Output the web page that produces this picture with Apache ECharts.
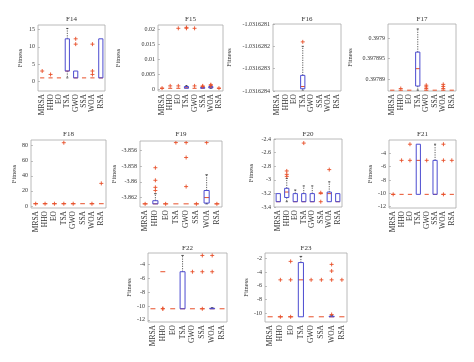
<!DOCTYPE html>
<html><head><meta charset="utf-8">
<script src="https://cdn.jsdelivr.net/npm/echarts@6/dist/echarts.min.js"></script>
<style>html,body{margin:0;padding:0;background:#fff}#c{width:474px;height:362px}</style>
</head><body><div id="c"></div>
<script>
const algorithms = ['MRSA','HHO','EO','TSA','GWO','SSA','WOA','RSA'];
const titles = ['F14','F15','F16','F17','F18','F19','F20','F21','F22','F23'];

// box stats per algorithm: [lower whisker, Q1, median, Q3, upper whisker]
const f14Box = [[0.998,0.998,0.998,0.998,0.998],[0.998,0.998,0.998,0.998,0.998],[0.998,0.998,0.998,0.998,0.998],[0.998,2.98,2.98,12.3,15.3],[0.998,0.998,0.998,2.98,2.98],[0.998,0.998,0.998,0.998,0.998],[0.998,0.998,0.998,0.998,0.998],[0.998,0.998,0.998,12.3,12.3]];
const f14Out = [[2.98],[1.99],[],[],[12.3,10.76],[],[10.76,2.98,1.99],[]];
const f14Ticks = [0,5,10,15];

const f15Box = [[0.0003,0.0003,0.0003,0.0003,0.0003],[0.0003,0.0003,0.0003,0.0003,0.0003],[0.0003,0.0003,0.0003,0.0003,0.0003],[0.0003,0.0003,0.0005,0.0009,0.0012],[0.0003,0.0003,0.0003,0.0003,0.0003],[0.0003,0.0003,0.0004,0.0006,0.0008],[0.0003,0.0004,0.0006,0.0009,0.0012],[0.0003,0.0003,0.0003,0.0003,0.0003]];
const f15Out = [[0.00035],[0.0011],[0.0203,0.0011],[0.0206,0.0203],[0.0203,0.0011],[0.0009,0.0011],[0.0013,0.0015],[0.00035]];
const f15Ticks = [0,0.005,0.01,0.015,0.02];

const f16Box = [[-1.03162845,-1.03162845,-1.03162845,-1.03162845,-1.03162845],[-1.03162845,-1.03162845,-1.03162845,-1.03162845,-1.03162845],[-1.03162845,-1.03162845,-1.03162845,-1.03162845,-1.03162845],[-1.0316284,-1.03162839,-1.03162838,-1.03162833,-1.0316282],[-1.03162845,-1.03162845,-1.03162845,-1.03162845,-1.03162845],[-1.03162845,-1.03162845,-1.03162845,-1.03162845,-1.03162845],[-1.03162845,-1.03162845,-1.03162845,-1.03162845,-1.03162845],[-1.03162845,-1.03162845,-1.03162845,-1.03162845,-1.03162845]];
const f16Out = [[],[],[],[-1.03162818],[],[],[],[]];
const f16Ticks = [-1.0316284,-1.0316283,-1.0316282,-1.0316281];

const f17Box = [[0.3978874,0.3978874,0.3978874,0.3978874,0.3978874],[0.3978874,0.3978874,0.3978874,0.3978874,0.3978874],[0.3978874,0.3978874,0.3978874,0.3978874,0.3978874],[0.3978874,0.3978884,0.3978926,0.3978966,0.3979022],[0.3978874,0.3978874,0.3978874,0.3978874,0.3978874],[0.3978874,0.3978874,0.3978874,0.3978874,0.3978874],[0.3978874,0.3978874,0.3978874,0.3978874,0.3978874],[0.3978874,0.3978874,0.3978874,0.3978874,0.3978874]];
const f17Out = [[],[0.3978878],[],[],[0.3978886,0.3978882,0.3978878],[],[0.3978888,0.3978883,0.3978878],[]];
const f17Ticks = [0.39789,0.397895,0.3979];

const f18Box = [[3,3,3,3,3],[3,3,3,3,3],[3,3,3,3,3],[3,3,3,3,3],[3,3,3,3,3],[3,3,3,3,3],[3,3,3,3,3],[3,3,3,3,3]];
const f18Out = [[3],[3],[3],[3,84],[3],[],[3],[30]];
const f18Ticks = [0,20,40,60,80];

const f19Box = [[-3.8628,-3.8628,-3.8628,-3.8628,-3.8628],[-3.8628,-3.8628,-3.8628,-3.8624,-3.8615],[-3.8628,-3.8628,-3.8628,-3.8628,-3.8628],[-3.8628,-3.8628,-3.8628,-3.8628,-3.8628],[-3.8628,-3.8628,-3.8628,-3.8628,-3.8628],[-3.8628,-3.8628,-3.8628,-3.8628,-3.8628],[-3.8628,-3.8627,-3.862,-3.8611,-3.8591],[-3.8628,-3.8628,-3.8628,-3.8628,-3.8628]];
const f19Out = [[-3.8628],[-3.8582,-3.8598,-3.8607,-3.8611],[-3.8628],[-3.855],[-3.855,-3.8569,-3.8606],[-3.8628],[-3.855],[-3.8628]];
const f19Ticks = [-3.862,-3.86,-3.858,-3.856];

const f20Box = [[-3.322,-3.322,-3.322,-3.2032,-3.2032],[-3.322,-3.26,-3.18,-3.125,-2.98],[-3.322,-3.322,-3.322,-3.2032,-3.15],[-3.322,-3.322,-3.322,-3.2032,-3.09],[-3.322,-3.322,-3.322,-3.2032,-3.09],[-3.2032,-3.2032,-3.2032,-3.2032,-3.2032],[-3.322,-3.322,-3.2032,-3.18,-3.03],[-3.322,-3.322,-3.322,-3.2032,-3.2032]];
const f20Out = [[],[-2.87,-2.92,-2.95],[],[-2.46],[],[-3.19,-3.322],[-2.85],[]];
const f20Ticks = [-3.4,-3.2,-3,-2.8,-2.6,-2.4];

const f21Box = [[-10.1532,-10.1532,-10.1532,-10.1532,-10.1532],[-10.1532,-10.1532,-10.1532,-10.1532,-10.1532],[-10.1532,-10.1532,-10.1532,-10.1532,-10.1532],[-10.1532,-10.1532,-5.0552,-2.6305,-2.6305],[-10.1532,-10.1532,-10.1532,-10.1532,-10.1532],[-10.1532,-10.1532,-10.1532,-5.0552,-2.6305],[-10.1532,-10.1532,-10.1532,-10.1532,-10.1532],[-10.1532,-10.1532,-10.1532,-10.1532,-10.1532]];
const f21Out = [[-10.1532],[-5.0552],[-5.0552,-2.6305],[],[-5.0552],[],[-10.1532,-5.0552,-2.6305],[-5.0552]];
const f21Ticks = [-12,-10,-8,-6,-4];

const f22Box = [[-10.4029,-10.4029,-10.4029,-10.4029,-10.4029],[-5.0877,-5.0877,-5.0877,-5.0877,-5.0877],[-10.4029,-10.4029,-10.4029,-10.4029,-10.4029],[-10.4029,-10.4029,-10.4029,-5.0877,-2.7519],[-10.4029,-10.4029,-10.4029,-10.4029,-10.4029],[-10.4029,-10.4029,-10.4029,-10.4029,-10.4029],[-10.4029,-10.4029,-10.4029,-10.33,-10.25],[-10.4029,-10.4029,-10.4029,-10.4029,-10.4029]];
const f22Out = [[],[-10.4029,-10.38],[],[],[-5.0877],[-2.7519,-5.0877,-10.4029],[-2.7519,-5.0877],[]];
const f22Ticks = [-12,-10,-8,-6,-4];

const f23Box = [[-10.5364,-10.5364,-10.5364,-10.5364,-10.5364],[-10.5364,-10.5364,-10.5364,-10.5364,-10.5364],[-10.5364,-10.5364,-10.5364,-10.5364,-10.5364],[-10.5364,-10.5364,-5.1285,-2.6,-1.7],[-10.5364,-10.5364,-10.5364,-10.5364,-10.5364],[-10.5364,-10.5364,-10.5364,-10.5364,-10.5364],[-10.5364,-10.5364,-10.5364,-10.45,-10.36],[-10.5364,-10.5364,-10.5364,-10.5364,-10.5364]];
const f23Out = [[],[-5.1285,-10.5364],[-2.4273,-5.1285,-10.5364],[],[-5.1285],[-5.1285],[-2.8711,-3.8354,-5.1285,-10.2],[-5.1285]];
const f23Ticks = [-10,-8,-6,-4,-2];

const panels = [
  {box:f14Box, out:f14Out, ticks:f14Ticks, min:-2.8, max:16.3},
  {box:f15Box, out:f15Out, ticks:f15Ticks, min:-0.0006, max:0.0214},
  {box:f16Box, out:f16Out, ticks:f16Ticks, min:-1.0316284, max:-1.0316281},
  {box:f17Box, out:f17Out, ticks:f17Ticks, min:0.3978872, max:0.3979034},
  {box:f18Box, out:f18Out, ticks:f18Ticks, min:-2.7, max:87.6},
  {box:f19Box, out:f19Out, ticks:f19Ticks, min:-3.8632, max:-3.8548},
  {box:f20Box, out:f20Out, ticks:f20Ticks, min:-3.4, max:-2.4},
  {box:f21Box, out:f21Out, ticks:f21Ticks, min:-12.2, max:-2.0},
  {box:f22Box, out:f22Out, ticks:f22Ticks, min:-12.3, max:-2.4},
  {box:f23Box, out:f23Out, ticks:f23Ticks, min:-11.3, max:-1.2}
];

const layout = [
  {left:38, top:25, width:67, height:66, fit:21, tTop:15.5},
  {left:158, top:25, width:65, height:66, fit:119, tTop:15.5},
  {left:273, top:24, width:68, height:67, fit:230, tTop:15.5},
  {left:388, top:24, width:68, height:67, fit:351, tTop:15.5},
  {left:31, top:140, width:75, height:68, fit:21, tTop:130.5},
  {left:140, top:141, width:82, height:66, fit:118, tTop:130.5},
  {left:274, top:139, width:68, height:68, fit:252, tTop:130.5},
  {left:389, top:140, width:67, height:68, fit:372, tTop:130.5},
  {left:148, top:253, width:79, height:69, fit:130, tTop:244.5},
  {left:265, top:253, width:82, height:69, fit:255, tTop:244.5}
];

const SERIF = 'Liberation Serif';
const BLUE = '#4b4bd0', RED = '#e8502a', TXT = '#333';

function renderBox(params, api) {
  const x = api.value(0);
  const v = [api.value(1), api.value(2), api.value(3), api.value(4), api.value(5)];
  const p = v.map(val => api.coord([x, val]));
  const band = api.size([1, 0])[0];
  const hw = band * 0.25;
  const cx = p[2][0];
  const ch = [];
  const dash = {stroke:'#333', lineWidth:0.8, lineDash:[1.2,1.2], fill:null};
  const cap = {stroke:'#222', lineWidth:0.8, fill:null};
  if (v[4] > v[3]) {
    ch.push({type:'line', shape:{x1:cx, y1:p[3][1], x2:cx, y2:p[4][1]}, style:dash});
    ch.push({type:'line', shape:{x1:cx-hw/2, y1:p[4][1], x2:cx+hw/2, y2:p[4][1]}, style:cap});
  }
  if (v[0] < v[1]) {
    ch.push({type:'line', shape:{x1:cx, y1:p[1][1], x2:cx, y2:p[0][1]}, style:dash});
    ch.push({type:'line', shape:{x1:cx-hw/2, y1:p[0][1], x2:cx+hw/2, y2:p[0][1]}, style:cap});
  }
  ch.push({type:'line', shape:{x1:cx-hw, y1:p[2][1], x2:cx+hw, y2:p[2][1]}, style:{stroke:RED, lineWidth:1, fill:null}});
  if (v[3] > v[1]) {
    ch.push({type:'rect', shape:{x:cx-hw, y:p[3][1], width:2*hw, height:p[1][1]-p[3][1]}, style:{stroke:BLUE, lineWidth:1, fill:null}});
  }
  return {type:'group', children:ch};
}

function renderPlus(params, api) {
  const pt = api.coord([api.value(0), api.value(1)]);
  const s = 2;
  const st = {stroke:RED, lineWidth:0.9, fill:null};
  return {type:'group', children:[
    {type:'line', shape:{x1:pt[0]-s, y1:pt[1], x2:pt[0]+s, y2:pt[1]}, style:st},
    {type:'line', shape:{x1:pt[0], y1:pt[1]-s, x2:pt[0], y2:pt[1]+s}, style:st}
  ]};
}

const fmt = v => String(parseFloat(Number(v).toPrecision(10)));

const grid = [], xAxis = [], yAxis = [], series = [], title = [];
panels.forEach((pn, i) => {
  const L = layout[i];
  grid.push({left:L.left, top:L.top, width:L.width, height:L.height, show:true, borderColor:'#a8a8a8', borderWidth:0.8, containLabel:false});
  title.push({text:titles[i], left:L.left + L.width/2, top:L.tTop, textAlign:'center', padding:0,
    textStyle:{fontFamily:SERIF, fontSize:7, fontWeight:'normal', color:TXT}});
  xAxis.push({type:'category', gridIndex:i, data:algorithms, boundaryGap:true,
    axisLine:{show:false}, axisTick:{show:false},
    axisLabel:{rotate:90, margin:3, fontFamily:SERIF, fontSize:7.5, color:TXT, interval:0}});
  yAxis.push({type:'value', gridIndex:i, min:pn.min, max:pn.max, scale:true,
    name:'Fitness', nameLocation:'middle', nameGap:L.left - L.fit - 3,
    nameTextStyle:{fontFamily:SERIF, fontSize:6.5, color:TXT},
    axisLine:{show:false}, splitLine:{show:false},
    axisTick:{show:true, inside:true, length:2, customValues:pn.ticks, lineStyle:{color:'#999', width:0.6}},
    axisLabel:{customValues:pn.ticks, formatter:fmt, fontFamily:SERIF, fontSize:6, color:TXT, margin:3}});
  const boxData = pn.box.map((b, k) => [k, b[0], b[1], b[2], b[3], b[4]]);
  series.push({type:'custom', xAxisIndex:i, yAxisIndex:i, clip:true, renderItem:renderBox,
    encode:{x:0, y:[1,2,3,4,5]}, data:boxData, silent:true, animation:false});
  const outData = [];
  pn.out.forEach((arr, k) => arr.forEach(val => outData.push([k, val])));
  series.push({type:'custom', xAxisIndex:i, yAxisIndex:i, clip:true, renderItem:renderPlus,
    encode:{x:0, y:1}, data:outData, silent:true, animation:false});
});

const chart = echarts.init(document.getElementById('c'), null, {renderer:'canvas'});
chart.setOption({animation:false, backgroundColor:'#fff', title, grid, xAxis, yAxis, series});
</script>
</body></html>
